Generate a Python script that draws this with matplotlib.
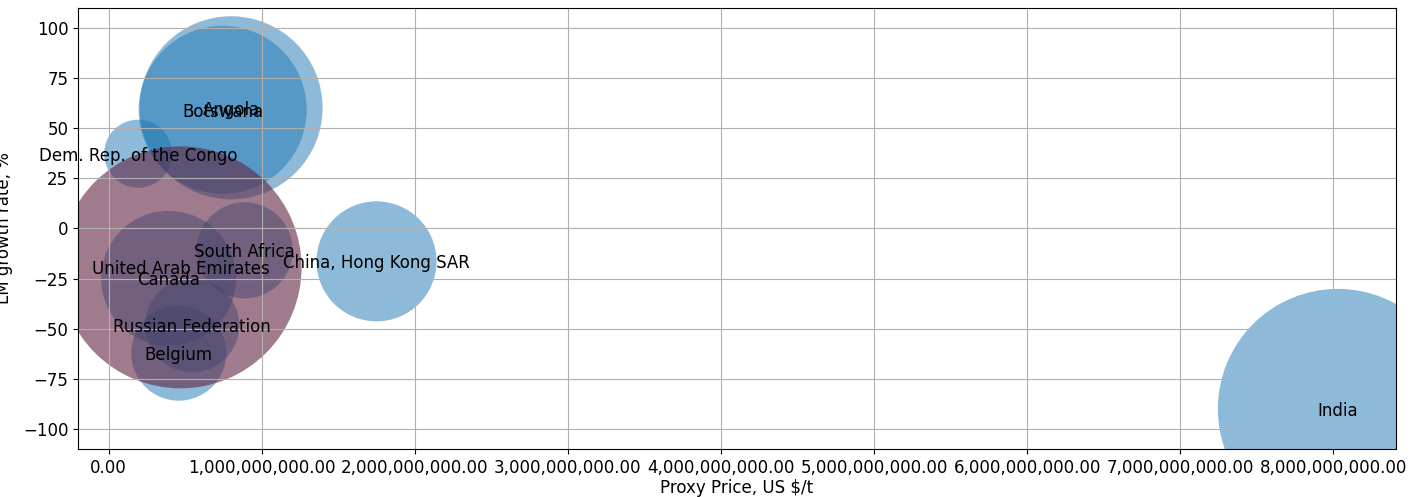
import matplotlib.pyplot as plt
import matplotlib.ticker as mticker

plt.rcParams['font.family'] = 'DejaVu Sans'

# bubble chart data
countries = ['Angola', 'Botswana', 'Dem. Rep. of the Congo', 'South Africa', 'Canada',
             'China, Hong Kong SAR', 'Russian Federation', 'Belgium', 'India',
             'United Arab Emirates']
proxy_price = [0.80e9, 0.745e9, 0.193e9, 0.889e9, 0.392e9,
               1.75e9, 0.546e9, 0.458e9, 8.03e9,
               0.47e9]
growth_rate = [60.2, 59.2, 37.3, -10.9, -24.9,
               -16.4, -48.3, -62.2, -90.0,
               -19.4]
bubble_size = [17370, 14630, 2400, 4780, 9450,
               7470, 4580, 4680, 29860,
               30360]
bubble_color = [(0.122, 0.467, 0.706, 0.5)] * 9 + [(0.38, 0.14, 0.26, 0.6)]

fig = plt.figure(figsize=(14.13, 4.97), dpi=100)
ax = fig.add_axes([0.0552, 0.0966, 0.9328, 0.8874])

ax.scatter(proxy_price, growth_rate, s=bubble_size, c=bubble_color, linewidths=0)
for name, x, y in zip(countries, proxy_price, growth_rate):
    ax.text(x, y, name, ha='center', va='center_baseline', fontsize=12)

ax.set_xlim(-0.2e9, 8.41e9)
ax.set_ylim(-110, 110)
ax.xaxis.set_major_locator(mticker.MultipleLocator(1e9))
ax.yaxis.set_major_locator(mticker.MultipleLocator(25))
ax.xaxis.set_major_formatter(mticker.StrMethodFormatter('{x:,.2f}'))
ax.tick_params(labelsize=12)
ax.set_xlabel('Proxy Price, US $/t', fontsize=12, labelpad=1.5)
ax.set_ylabel('LM growth rate, %', fontsize=12, labelpad=7)
ax.grid(True)

fig.savefig('out.png', dpi=100)
